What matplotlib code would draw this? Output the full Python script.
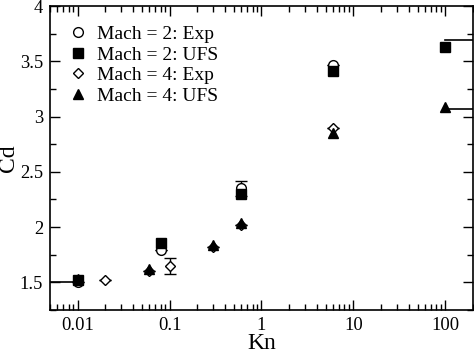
import matplotlib
matplotlib.use("Agg")
import matplotlib.pyplot as plt
from matplotlib.lines import Line2D
from matplotlib.ticker import LogLocator, NullFormatter, MultipleLocator, FixedFormatter, FixedLocator

plt.rcParams['font.family'] = ['Liberation Serif', 'DejaVu Serif']

# Mach 2 experiment
m2e_kn = [0.01, 0.08, 0.6, 6]
m2e_cd = [1.50, 1.79, 2.35, 3.47]
m2e_err = [0, 0, 0.07, 0]
# Mach 2 UFS
m2u_kn = [0.01, 0.08, 0.6, 6, 100]
m2u_cd = [1.52, 1.855, 2.30, 3.41, 3.63]
# Mach 4 experiment
m4e_kn = [0.02, 0.06, 0.1, 0.3, 0.6, 6]
m4e_cd = [1.52, 1.60, 1.65, 1.82, 2.02, 2.90]
m4e_err = [0, 0, 0.07, 0, 0, 0]
# Mach 4 UFS
m4u_kn = [0.01, 0.06, 0.3, 0.6, 6, 100]
m4u_cd = [1.53, 1.62, 1.84, 2.04, 2.85, 3.09]

# limit lines
cont_kn = [0.005, 0.01]
cont_cd = [1.5, 1.5]
fm2_kn = [100, 200]
fm2_cd = [3.69, 3.69]
fm4_kn = [100, 200]
fm4_cd = [3.07, 3.07]

labels = ['Mach = 2: Exp', 'Mach = 2: UFS', 'Mach = 4: Exp', 'Mach = 4: UFS']

fig = plt.figure(figsize=(4.74, 3.55), dpi=100)
ax = fig.add_axes([0.1055, 0.1268, 0.892, 0.856])

ax.plot(cont_kn, cont_cd, color='black', lw=1.2)
ax.plot(fm2_kn, fm2_cd, color='black', lw=1.2)
ax.plot(fm4_kn, fm4_cd, color='black', lw=1.2)

ms = 7
ax.errorbar(m2e_kn, m2e_cd, yerr=m2e_err, fmt='o', mfc='white', mec='black',
            ecolor='black', ms=ms, capsize=4, elinewidth=1, mew=1, zorder=3)
ax.plot(m2u_kn, m2u_cd, 's', color='black', ms=ms - 0.5, zorder=4)
ax.errorbar(m4e_kn, m4e_cd, yerr=m4e_err, fmt='D', mfc='white', mec='black',
            ecolor='black', ms=ms - 1.5, capsize=4, elinewidth=1, mew=1, zorder=3)
ax.plot(m4u_kn, m4u_cd, '^', color='black', ms=ms, zorder=4)

ax.set_xscale('log')
ax.set_xlim(0.005, 200)
ax.set_ylim(1.25, 4.0)

ax.xaxis.set_major_locator(FixedLocator([0.01, 0.1, 1, 10, 100]))
ax.xaxis.set_major_formatter(FixedFormatter(['0.01', '0.1', '1', '10', '100']))
ax.xaxis.set_minor_locator(LogLocator(base=10, subs=range(2, 10)))
ax.xaxis.set_minor_formatter(NullFormatter())
ax.yaxis.set_major_locator(FixedLocator([1.5, 2, 2.5, 3, 3.5, 4]))
ax.yaxis.set_major_formatter(FixedFormatter(['1.5', '2', '2.5', '3', '3.5', '4']))
ax.yaxis.set_minor_locator(MultipleLocator(0.25))

ax.tick_params(which='both', direction='in', top=True, right=True, labelsize=13.3, width=1)
ax.tick_params(which='major', length=7.5, pad=5)
ax.tick_params(which='minor', length=4)
for s in ax.spines.values():
    s.set_linewidth(1.2)

ax.set_xlabel('Kn', fontsize=17, labelpad=-1)
ax.set_ylabel('Cd', fontsize=17, va='center')
ax.yaxis.set_label_coords(-0.097, 0.5)

handles = [
    Line2D([], [], ls='none', marker='o', mfc='white', mec='black', ms=ms, mew=1),
    Line2D([], [], ls='none', marker='s', color='black', ms=ms - 0.5),
    Line2D([], [], ls='none', marker='D', mfc='white', mec='black', ms=ms - 1.5, mew=1),
    Line2D([], [], ls='none', marker='^', color='black', ms=ms),
]
ax.legend(handles, labels, loc='upper left', frameon=False, fontsize=14, handlelength=1.0,
          handletextpad=0.5, labelspacing=0.15, borderaxespad=0.2,
          bbox_to_anchor=(0.015, 0.975))

fig.savefig('out.png', dpi=100)
